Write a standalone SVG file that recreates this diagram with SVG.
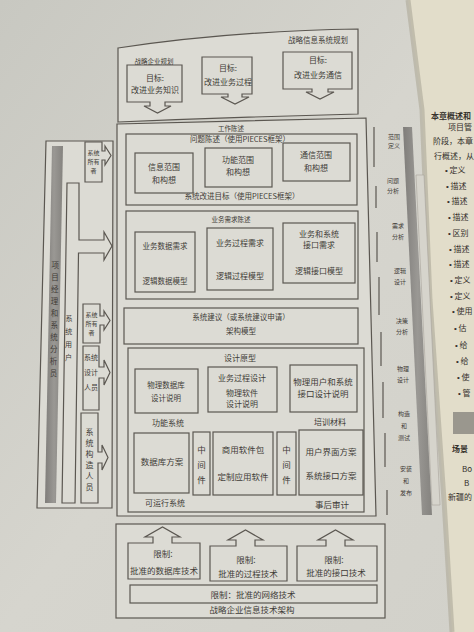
<svg xmlns="http://www.w3.org/2000/svg" width="474" height="632" viewBox="0 0 474 632">
<defs>
<style>
.ln{fill:none;stroke:#5b5751;stroke-width:1.2}
.bx{fill:#dcdbd4;stroke:#5b5751;stroke-width:1.2}
.t{font-family:"Noto Sans CJK SC","Noto Sans",sans-serif;fill:#3f3b37;text-anchor:middle}
.s6{font-size:6px}.s65{font-size:6.5px}.s7{font-size:7px}.s75{font-size:7.5px}.s8{font-size:8px}.s85{font-size:8.5px}.s9{font-size:9px}
.pg{font-family:"Noto Sans CJK SC","Noto Sans",sans-serif;fill:#35312c;font-size:8px}
.bl{font-family:"Liberation Sans",sans-serif}
</style>
<linearGradient id="bar" x1="0" y1="0" x2="1" y2="0">
<stop offset="0" stop-color="#7f7d7a"/><stop offset="0.5" stop-color="#9a9894"/><stop offset="1" stop-color="#85837f"/>
</linearGradient>
<linearGradient id="bg" x1="0" y1="0" x2="1" y2="1">
<stop offset="0" stop-color="#c8c8c1"/><stop offset="0.5" stop-color="#d6d5ce"/><stop offset="1" stop-color="#d2d1ca"/>
</linearGradient>
</defs>

<rect x="0" y="0" width="474" height="632" fill="url(#bg)"/>
<!-- facing page -->
<g id="facing-page">
<path d="M408,0 L422,110 L430,300 L444,500 L452,632 L474,632 L474,0 Z" fill="#e2ddca"/>
<path d="M408,0 L422,110 L430,300 L444,500 L452,632" fill="none" stroke="#b3af9f" stroke-width="5" opacity="0.7"/>
<text class="pg" x="431" y="119" font-weight="bold">本章概述和</text>
<text class="pg" x="448" y="130">项目管</text>
<text class="pg" x="433" y="144">阶段，本章</text>
<text class="pg" x="434" y="159">行概述，从</text>
<text class="pg" x="445" y="173"><tspan class="bl">•</tspan> 定义</text>
<text class="pg" x="446" y="189"><tspan class="bl">•</tspan> 描述</text>
<text class="pg" x="447" y="204"><tspan class="bl">•</tspan> 描述</text>
<text class="pg" x="448" y="220"><tspan class="bl">•</tspan> 描述</text>
<text class="pg" x="448" y="236"><tspan class="bl">•</tspan> 区别</text>
<text class="pg" x="449" y="252"><tspan class="bl">•</tspan> 描述</text>
<text class="pg" x="449" y="267"><tspan class="bl">•</tspan> 描述</text>
<text class="pg" x="450" y="283"><tspan class="bl">•</tspan> 定义</text>
<text class="pg" x="450" y="299"><tspan class="bl">•</tspan> 定义</text>
<text class="pg" x="452" y="314"><tspan class="bl">•</tspan> 使用</text>
<text class="pg" x="454" y="331"><tspan class="bl">•</tspan> 估</text>
<text class="pg" x="455" y="348"><tspan class="bl">•</tspan> 给</text>
<text class="pg" x="456" y="364"><tspan class="bl">•</tspan> 给</text>
<text class="pg" x="457" y="380"><tspan class="bl">•</tspan> 使</text>
<text class="pg" x="458" y="396"><tspan class="bl">•</tspan> 管</text>
<rect x="453" y="412" width="21" height="22" fill="#9a978e"/>
<text class="pg" x="452" y="452" font-weight="bold">场景</text>
<text class="pg" x="462" y="472">Bo</text>
<text class="pg" x="464" y="486">B</text>
<text class="pg" x="448" y="500">新疆的</text>
</g>

<!-- right side phase column -->
<g id="phase-bar">
<polygon points="416,175 424,175 440,505 432,505" fill="#d6d4cc" stroke="#a7a39a" stroke-width="0.6"/>
<polygon points="403,127 412,127 432,515 422,515" fill="url(#bar)"/>
</g>
<g id="phases">
<text class="t s6" x="394" y="139">范围</text><text class="t s6" x="394" y="148">定义</text>
<text class="t s6" x="393" y="183">问题</text><text class="t s6" x="393" y="193">分析</text>
<text class="t s6" x="398" y="228">需求</text><text class="t s6" x="398" y="239">分析</text>
<text class="t s6" x="400" y="273">逻辑</text><text class="t s6" x="400" y="284">设计</text>
<text class="t s6" x="402" y="323">决策</text><text class="t s6" x="402" y="334">分析</text>
<text class="t s6" x="403" y="371">物理</text><text class="t s6" x="403" y="382">设计</text>
<text class="t s6" x="404" y="416">构造</text><text class="t s6" x="404" y="428">和</text><text class="t s6" x="404" y="440">测试</text>
<text class="t s6" x="406" y="471">安装</text><text class="t s6" x="406" y="483">和</text><text class="t s6" x="406" y="495">发布</text>
</g>

<!-- top planning box -->
<g id="planning">
<path class="bx" d="M118,48 Q230,31 358,29 L358,114 Q240,117 118,122 Z"/>
<text class="t s65" x="154" y="64">战略企业规划</text>
<text class="t s75" x="318" y="43">战略信息系统规划</text>
</g>
<g id="goal-knowledge">
<path class="bx" d="M127,65 H182 V102 H165 V106 H171 L157.5,113 L144,106 H150 V102 H127 Z"/>
<text class="t s8" x="155" y="81">目标:</text>
<text class="t s8" x="155" y="93">改进业务知识</text>
</g>
<g id="goal-process">
<path class="bx" d="M202,57 H252 V94 H242 V97 H249 L235,104 L221,97 H228 V94 H202 Z"/>
<text class="t s8" x="228" y="71">目标:</text>
<text class="t s8" x="228" y="85">改进业务过程</text>
</g>
<g id="goal-communication">
<path class="bx" d="M283,52 H352 V89 H328 V92 H334 L320,99 L306,92 H312 V89 H283 Z"/>
<text class="t s8" x="318" y="63">目标:</text>
<text class="t s8" x="318" y="78">改进业务通信</text>
</g>

<!-- main box -->
<g id="main">
<path class="bx" d="M117,124 L366,118 L376,516 L117,516 Z"/>
<text class="t s65" x="231" y="131">工作陈述</text>
</g>
<g id="connectors">
<line class="ln" x1="374" y1="127" x2="374" y2="167"/>
<line class="ln" x1="376" y1="186" x2="376" y2="208"/>
<line class="ln" x1="377" y1="232" x2="377" y2="262"/>
<line class="ln" x1="379" y1="277" x2="379" y2="315"/>
<line class="ln" x1="381" y1="332" x2="381" y2="366"/>
<line class="ln" x1="383" y1="382" x2="383" y2="418"/>
<line class="ln" x1="385" y1="433" x2="385" y2="467"/>
<line class="ln" x1="387" y1="490" x2="387" y2="515"/>
</g>

<g id="work-statement">
<rect class="bx" x="126" y="134" width="231" height="71"/>
<text class="t s75" x="240" y="142">问题陈述（使用PIECES框架）</text>
<text class="t s75" x="242" y="199">系统改进目标（使用PIECES框架）</text>
</g>
<g id="info-scope">
<rect class="bx" x="135" y="153" width="58" height="40"/>
<text class="t s8" x="164" y="170">信息范围</text><text class="t s8" x="164" y="183">和构想</text>
</g>
<g id="func-scope">
<rect class="bx" x="205" y="148" width="67" height="39"/>
<text class="t s8" x="238" y="163">功能范围</text><text class="t s8" x="238" y="175">和构想</text>
</g>
<g id="comm-scope">
<rect class="bx" x="283" y="143" width="67" height="38"/>
<text class="t s8" x="316" y="158">通信范围</text><text class="t s8" x="316" y="171">和构想</text>
</g>

<g id="requirements">
<rect class="bx" x="126" y="211" width="232" height="88"/>
<text class="t s65" x="231" y="222">业务需求陈述</text>
</g>
<g id="data-req">
<rect class="bx" x="135" y="232" width="60" height="60"/>
<text class="t s75" x="165" y="249">业务数据需求</text><text class="t s75" x="165" y="284">逻辑数据模型</text>
</g>
<g id="process-req">
<rect class="bx" x="207" y="228" width="66" height="62"/>
<text class="t s8" x="240" y="246">业务过程需求</text><text class="t s8" x="240" y="279">逻辑过程模型</text>
</g>
<g id="interface-req">
<rect class="bx" x="283" y="223" width="72" height="60"/>
<text class="t s8" x="319" y="237">业务和系统</text><text class="t s8" x="319" y="248">接口需求</text><text class="t s8" x="319" y="274">逻辑接口模型</text>
</g>

<g id="proposal">
<rect class="bx" x="124" y="308" width="234" height="36"/>
<text class="t s75" x="241" y="320">系统建议（或系统建议申请）</text>
<text class="t s75" x="241" y="334">架构模型</text>
</g>

<g id="design">
<rect class="bx" x="128" y="348" width="236" height="164"/>
<text class="t s8" x="240" y="361">设计原型</text>
<text class="t s8" x="168" y="426">功能系统</text>
<text class="t s8" x="330" y="425">培训材料</text>
<text class="t s8" x="165" y="506">可运行系统</text>
<text class="t s85" x="332" y="508">事后审计</text>
</g>
<g id="db-design">
<rect class="bx" x="135" y="369" width="63" height="44"/>
<text class="t s75" x="166" y="388">物理数据库</text><text class="t s75" x="166" y="401">设计说明</text>
</g>
<g id="sw-design">
<rect class="bx" x="208" y="367" width="69" height="45"/>
<text class="t s8" x="242" y="381">业务过程设计</text><text class="t s8" x="242" y="396">物理软件</text><text class="t s8" x="242" y="407">设计说明</text>
</g>
<g id="if-design">
<rect class="bx" x="290" y="365" width="67" height="47"/>
<text class="t s85" x="323" y="385">物理用户和系统</text><text class="t s85" x="323" y="397">接口设计说明</text>
</g>
<g id="db-solution">
<rect class="bx" x="134" y="433" width="55" height="60"/>
<text class="t s85" x="162" y="465">数据库方案</text>
</g>
<g id="middleware-1">
<rect class="bx" x="193" y="432" width="17" height="63"/>
<text class="t s85" x="201.5" y="453">中</text><text class="t s85" x="201.5" y="468">间</text><text class="t s85" x="201.5" y="483">件</text>
</g>
<g id="software">
<rect class="bx" x="213" y="432" width="60" height="63"/>
<text class="t s85" x="243" y="453">商用软件包</text><text class="t s85" x="243" y="480">定制应用软件</text>
</g>
<g id="middleware-2">
<rect class="bx" x="277" y="432" width="19" height="63"/>
<text class="t s85" x="286.5" y="453">中</text><text class="t s85" x="286.5" y="468">间</text><text class="t s85" x="286.5" y="483">件</text>
</g>
<g id="ui-solution">
<rect class="bx" x="299" y="430" width="64" height="65"/>
<text class="t s85" x="331" y="455">用户界面方案</text><text class="t s85" x="331" y="479">系统接口方案</text>
</g>

<!-- bottom architecture box -->
<g id="architecture">
<rect class="bx" x="116" y="524" width="269" height="94"/>
<text class="t s85" x="252" y="613">战略企业信息技术架构</text>
</g>
<g id="network-tech">
<rect class="bx" x="130" y="585" width="247" height="18"/>
<text class="t s85" x="253" y="598">限制：批准的网络技术</text>
</g>
<g id="db-tech">
<path class="bx" d="M128,543 H153 V537 H145 L162.5,527 L180,537 H172 V543 H200 V579 H128 Z"/>
<text class="t s85" x="163" y="557">限制:</text><text class="t s85" x="164" y="574">批准的数据库技术</text>
</g>
<g id="process-tech">
<path class="bx" d="M210,546 H236 V540 H228 L245.5,530 L263,540 H255 V546 H287 V581 H210 Z"/>
<text class="t s85" x="246" y="563">限制:</text><text class="t s85" x="248" y="577">批准的过程技术</text>
</g>
<g id="interface-tech">
<path class="bx" d="M297,546 H326 V540 H318 L335.5,530 L353,540 H345 V546 H377 V581 H297 Z"/>
<text class="t s85" x="334" y="563">限制:</text><text class="t s85" x="336" y="576">批准的接口技术</text>
</g>

<!-- left stakeholders panel -->
<g id="stakeholders">
<path class="bx" d="M46,141 L113,141 L112,508 L37,508 Z"/>
</g>
<g id="pm-analyst">
<polygon points="52,146 63,146 56,503 45,503" fill="url(#bar)"/>
<g class="t s75" fill="#2e2c2a">
<text x="55.2" y="268">项</text><text x="55" y="280">目</text><text x="54.8" y="292">经</text><text x="54.6" y="304">理</text><text x="54.4" y="316">和</text>
<text x="54.2" y="328">系</text><text x="54" y="340">统</text><text x="53.8" y="352">分</text><text x="53.6" y="364">析</text><text x="53.4" y="376">员</text>
</g>
</g>
<g id="system-users">
<path class="bx" d="M67,183 L79,183 L79,240 L104,240 L104,232 L112,246 L104,260 L104,253 L78.5,253 L75,503 L62,503 Z"/>
<text class="t s7" x="69" y="321">系</text><text class="t s7" x="68.8" y="334">统</text><text class="t s7" x="68.6" y="347">用</text><text class="t s7" x="68.4" y="360">户</text>
</g>
<g id="owners-1">
<path class="bx" d="M85,142 H102 V151 H105 V146 L111,155.5 L105,165 V160 H102 V182 H85 Z"/>
<text class="t s6" x="93.5" y="155">系统</text><text class="t s6" x="93.5" y="164">所有</text><text class="t s6" x="93.5" y="173">者</text>
</g>
<g id="owners-2">
<path class="bx" d="M83,304 H100 V316 H104 V311 L110,320.5 L104,330 V325 H100 V343 H83 Z"/>
<text class="t s6" x="91.5" y="317">系统</text><text class="t s6" x="91.5" y="326">所有</text><text class="t s6" x="91.5" y="335">者</text>
</g>
<g id="designers">
<path class="bx" d="M83,346 H99 V367 H104 V360 L110,372.5 L104,385 V378 H99 V410 H83 Z"/>
<text class="t s7" x="91" y="360">系统</text><text class="t s7" x="91" y="375">设计</text><text class="t s7" x="91" y="390">人员</text>
</g>
<g id="builders">
<path class="bx" d="M81,413 H98 V452 H102 V445 L108,457.5 L102,470 V463 H98 V503 H81 Z"/>
<text class="t s8" x="89.5" y="435">系</text><text class="t s8" x="89.5" y="446">统</text><text class="t s8" x="89.5" y="457">构</text>
<text class="t s8" x="89.5" y="468">造</text><text class="t s8" x="89.5" y="479">人</text><text class="t s8" x="89.5" y="490">员</text>
</g>
</svg>
